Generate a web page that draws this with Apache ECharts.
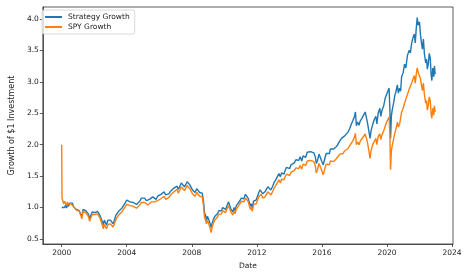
<!DOCTYPE html>
<html><head><meta charset="utf-8">
<script src="https://cdn.jsdelivr.net/npm/echarts@6/dist/echarts.min.js"></script>
<style>html,body{margin:0;padding:0;background:#fff}#c{width:474px;height:275px}</style>
</head><body><div id="c"></div>
<script>
const dates = [2000.00,2000.02,2000.06,2000.12,2000.18,2000.24,2000.30,2000.36,2000.42,2000.50,2000.58,2000.66,2000.74,2000.82,2000.90,
2001.00,2001.08,2001.16,2001.24,2001.32,2001.40,2001.48,2001.56,2001.64,2001.72,2001.80,2001.88,2001.96,
2002.04,2002.12,2002.20,2002.28,2002.36,2002.44,2002.52,2002.56,2002.62,2002.68,2002.76,2002.84,2002.92,
2003.00,2003.08,2003.16,2003.24,2003.32,2003.40,2003.50,2003.60,2003.70,2003.80,2003.90,
2004.00,2004.10,2004.20,2004.30,2004.40,2004.50,2004.60,2004.70,2004.80,2004.90,
2005.00,2005.10,2005.20,2005.30,2005.40,2005.50,2005.60,2005.70,2005.80,2005.90,
2006.00,2006.10,2006.20,2006.30,2006.40,2006.50,2006.60,2006.70,2006.80,2006.90,
2007.00,2007.10,2007.16,2007.25,2007.35,2007.45,2007.55,2007.62,2007.72,2007.80,2007.88,2007.96,
2008.04,2008.12,2008.20,2008.30,2008.40,2008.48,2008.56,2008.64,2008.72,2008.78,2008.86,2008.90,2008.96,
2009.04,2009.12,2009.19,2009.26,2009.34,2009.42,2009.50,2009.58,2009.66,2009.74,2009.82,2009.90,
2010.00,2010.08,2010.16,2010.26,2010.32,2010.40,2010.48,2010.52,2010.60,2010.66,2010.74,2010.84,2010.94,
2011.04,2011.12,2011.20,2011.30,2011.38,2011.46,2011.54,2011.60,2011.66,2011.72,2011.80,2011.88,2011.96,
2012.04,2012.12,2012.20,2012.28,2012.36,2012.42,2012.50,2012.58,2012.68,2012.76,2012.86,2012.96,
2013.06,2013.16,2013.26,2013.36,2013.44,2013.52,2013.60,2013.66,2013.74,2013.82,2013.92,
2014.02,2014.10,2014.20,2014.30,2014.40,2014.50,2014.58,2014.66,2014.76,2014.84,2014.92,
2015.00,2015.10,2015.20,2015.30,2015.40,2015.50,2015.60,2015.65,2015.72,2015.82,2015.92,
2016.00,2016.08,2016.16,2016.26,2016.36,2016.46,2016.52,2016.62,2016.72,2016.82,2016.90,
2017.00,2017.10,2017.20,2017.30,2017.40,2017.50,2017.60,2017.70,2017.80,2017.90,
2018.00,2018.06,2018.12,2018.20,2018.28,2018.36,2018.46,2018.56,2018.66,2018.74,2018.80,2018.88,2018.96,
2019.02,2019.12,2019.22,2019.32,2019.38,2019.46,2019.56,2019.62,2019.70,2019.80,2019.90,2019.98,
2020.06,2020.13,2020.18,2020.22,2020.27,2020.32,2020.40,2020.48,2020.56,2020.64,2020.70,2020.78,2020.84,2020.90,
2021.00,2021.08,2021.16,2021.26,2021.36,2021.44,2021.52,2021.60,2021.68,2021.74,2021.80,2021.86,2021.92,
2022.00,2022.06,2022.12,2022.18,2022.24,2022.30,2022.38,2022.44,2022.48,2022.54,2022.60,2022.66,2022.72,2022.76,2022.82,2022.88,2022.92,2022.96];

const strategy = [1.00,0.99,1.01,0.97,1.00,1.04,0.99,1.06,1.02,1.07,1.04,1.07,1.01,1.03,0.97,
1.00,0.95,0.90,0.86,0.97,0.99,0.95,0.93,0.90,0.82,0.88,0.93,0.94,
0.92,0.90,0.94,0.92,0.87,0.84,0.76,0.72,0.80,0.78,0.72,0.80,0.82,
0.80,0.77,0.74,0.80,0.87,0.90,0.94,0.96,0.99,1.03,1.07,
1.12,1.13,1.09,1.11,1.08,1.10,1.05,1.08,1.10,1.15,
1.13,1.15,1.11,1.10,1.13,1.16,1.17,1.15,1.13,1.18,
1.20,1.21,1.23,1.25,1.20,1.19,1.22,1.26,1.29,1.31,
1.32,1.34,1.29,1.33,1.39,1.40,1.33,1.36,1.41,1.43,1.36,1.37,
1.28,1.30,1.24,1.30,1.33,1.24,1.22,1.23,1.10,0.92,0.86,0.80,0.86,
0.84,0.75,0.68,0.76,0.82,0.86,0.84,0.90,0.95,0.98,0.95,1.00,
1.02,0.97,1.03,1.09,1.11,0.98,0.96,0.93,1.00,0.95,1.03,1.06,1.10,
1.15,1.18,1.14,1.21,1.18,1.15,1.17,1.02,1.06,0.99,1.10,1.07,1.12,
1.18,1.24,1.28,1.29,1.22,1.19,1.25,1.29,1.33,1.31,1.28,1.33,
1.40,1.44,1.47,1.54,1.49,1.55,1.58,1.53,1.59,1.64,1.67,
1.62,1.68,1.70,1.71,1.76,1.79,1.75,1.81,1.74,1.82,1.85,
1.80,1.88,1.86,1.89,1.90,1.87,1.80,1.70,1.74,1.85,1.83,
1.73,1.68,1.76,1.86,1.89,1.86,1.93,1.95,1.93,1.90,1.97,
2.00,2.06,2.10,2.08,2.14,2.17,2.20,2.25,2.32,2.38,
2.45,2.52,2.30,2.36,2.31,2.38,2.42,2.47,2.52,2.53,2.35,2.37,2.10,
2.22,2.32,2.40,2.45,2.33,2.50,2.58,2.45,2.55,2.62,2.75,2.80,
2.82,2.90,2.55,2.10,2.45,2.55,2.65,2.78,2.85,2.95,2.82,2.90,2.85,3.08,
3.15,3.28,3.22,3.42,3.50,3.46,3.62,3.70,3.76,3.62,3.85,4.02,3.90,
3.95,3.75,3.62,3.52,3.68,3.45,3.30,3.36,3.20,3.28,3.45,3.38,3.10,3.02,3.22,3.08,3.25,3.12];

const spy = [2.00,1.15,1.12,1.06,1.10,1.08,1.03,1.09,1.05,1.08,1.06,1.08,1.01,1.03,0.96,
0.99,0.94,0.88,0.82,0.94,0.96,0.92,0.90,0.86,0.78,0.84,0.89,0.91,
0.89,0.86,0.90,0.88,0.83,0.80,0.70,0.66,0.73,0.72,0.66,0.73,0.76,
0.74,0.71,0.69,0.74,0.80,0.84,0.88,0.90,0.93,0.97,1.01,
1.05,1.06,1.03,1.04,1.02,1.03,0.99,1.01,1.04,1.08,
1.07,1.08,1.05,1.04,1.06,1.09,1.10,1.09,1.07,1.11,
1.13,1.14,1.16,1.18,1.13,1.12,1.16,1.20,1.23,1.25,
1.27,1.29,1.23,1.27,1.33,1.34,1.27,1.30,1.35,1.37,1.30,1.31,
1.22,1.24,1.18,1.24,1.27,1.18,1.16,1.17,1.03,0.85,0.79,0.74,0.80,
0.78,0.68,0.60,0.70,0.76,0.80,0.79,0.85,0.89,0.92,0.90,0.95,
0.97,0.92,0.98,1.03,1.05,0.93,0.91,0.88,0.95,0.90,0.98,1.01,1.05,
1.10,1.13,1.09,1.15,1.13,1.10,1.12,0.97,1.01,0.94,1.05,1.02,1.06,
1.12,1.17,1.20,1.21,1.15,1.12,1.17,1.21,1.25,1.23,1.20,1.25,
1.31,1.35,1.38,1.44,1.39,1.45,1.48,1.44,1.49,1.53,1.56,
1.51,1.56,1.58,1.59,1.63,1.66,1.62,1.67,1.61,1.69,1.71,
1.67,1.74,1.72,1.75,1.76,1.73,1.66,1.55,1.59,1.70,1.68,
1.58,1.52,1.60,1.69,1.71,1.68,1.74,1.75,1.73,1.72,1.78,
1.80,1.85,1.88,1.86,1.90,1.92,1.94,1.98,2.02,2.06,
2.12,2.18,2.00,2.04,2.00,2.06,2.09,2.13,2.17,2.18,2.04,2.06,1.78,
1.90,2.00,2.05,2.10,2.00,2.13,2.17,2.08,2.16,2.22,2.30,2.36,
2.38,2.44,2.15,1.60,1.90,1.98,2.08,2.18,2.26,2.36,2.28,2.33,2.30,2.52,
2.58,2.66,2.64,2.80,2.88,2.86,2.98,3.04,3.10,2.98,3.12,3.22,3.15,
3.18,3.05,2.95,2.86,2.98,2.80,2.66,2.70,2.55,2.62,2.76,2.70,2.48,2.42,2.58,2.47,2.62,2.52];

const xTicks = [2000, 2004, 2008, 2012, 2016, 2020, 2024];
const yTicks = [0.5, 1.0, 1.5, 2.0, 2.5, 3.0, 3.5, 4.0];

const pair = (vals) => dates.map((d, i) => [d, vals[i]]);
const FONT = 'DejaVu Sans';
const chart = echarts.init(document.getElementById('c'), null, {renderer: 'canvas'});
chart.setOption({
  animation: false,
  backgroundColor: '#fff',
  grid: {left: 40, right: 21, top: 7, bottom: 28, show: true, borderColor: '#333', borderWidth: 0.8, containLabel: false},
  legend: {
    left: 42, top: 10, orient: 'vertical', itemGap: 2, itemWidth: 17, itemHeight: 2,
    padding: [3, 5, 3, 3],
    backgroundColor: 'rgba(255,255,255,0.8)', borderColor: '#d0d0d0', borderWidth: 0.8, borderRadius: 2,
    textStyle: {fontFamily: FONT, fontSize: 7.5, color: '#222', padding: [0, 0, 0, 1]},
    data: [{name: 'Strategy Growth', icon: 'rect'}, {name: 'SPY Growth', icon: 'rect'}]
  },
  xAxis: {
    type: 'value', min: 1998.84, max: 2024.06,
    name: 'Date', nameLocation: 'middle', nameGap: 18,
    nameTextStyle: {fontFamily: FONT, fontSize: 7.5, color: '#222'},
    axisLine: {show: true, lineStyle: {color: '#333', width: 0.8}},
    axisTick: {show: true, length: 3, customValues: xTicks, lineStyle: {color: '#333', width: 0.8}},
    axisLabel: {customValues: xTicks, fontFamily: FONT, fontSize: 7.5, color: '#222', margin: 5, formatter: v => String(Math.round(v))},
    splitLine: {show: false}
  },
  yAxis: {
    type: 'value', min: 0.42, max: 4.19,
    name: 'Growth of $1 Investment', nameLocation: 'middle', nameGap: 20, nameRotate: 90,
    nameTextStyle: {fontFamily: FONT, fontSize: 8, color: '#222'},
    axisLine: {show: true, lineStyle: {color: '#333', width: 0.8}},
    axisTick: {show: true, length: 3, customValues: yTicks, lineStyle: {color: '#333', width: 0.8}},
    axisLabel: {customValues: yTicks, fontFamily: FONT, fontSize: 7.5, color: '#222', margin: 4, formatter: v => v.toFixed(1)},
    splitLine: {show: false}
  },
  series: [
    {name: 'Strategy Growth', type: 'line', data: pair(strategy), showSymbol: false, symbol: 'none',
     lineStyle: {color: '#1f77b4', width: 1.4}, itemStyle: {color: '#1f77b4'}},
    {name: 'SPY Growth', type: 'line', data: pair(spy), showSymbol: false, symbol: 'none',
     lineStyle: {color: '#ff7f0e', width: 1.4}, itemStyle: {color: '#ff7f0e'}}
  ]
});
</script></body></html>
